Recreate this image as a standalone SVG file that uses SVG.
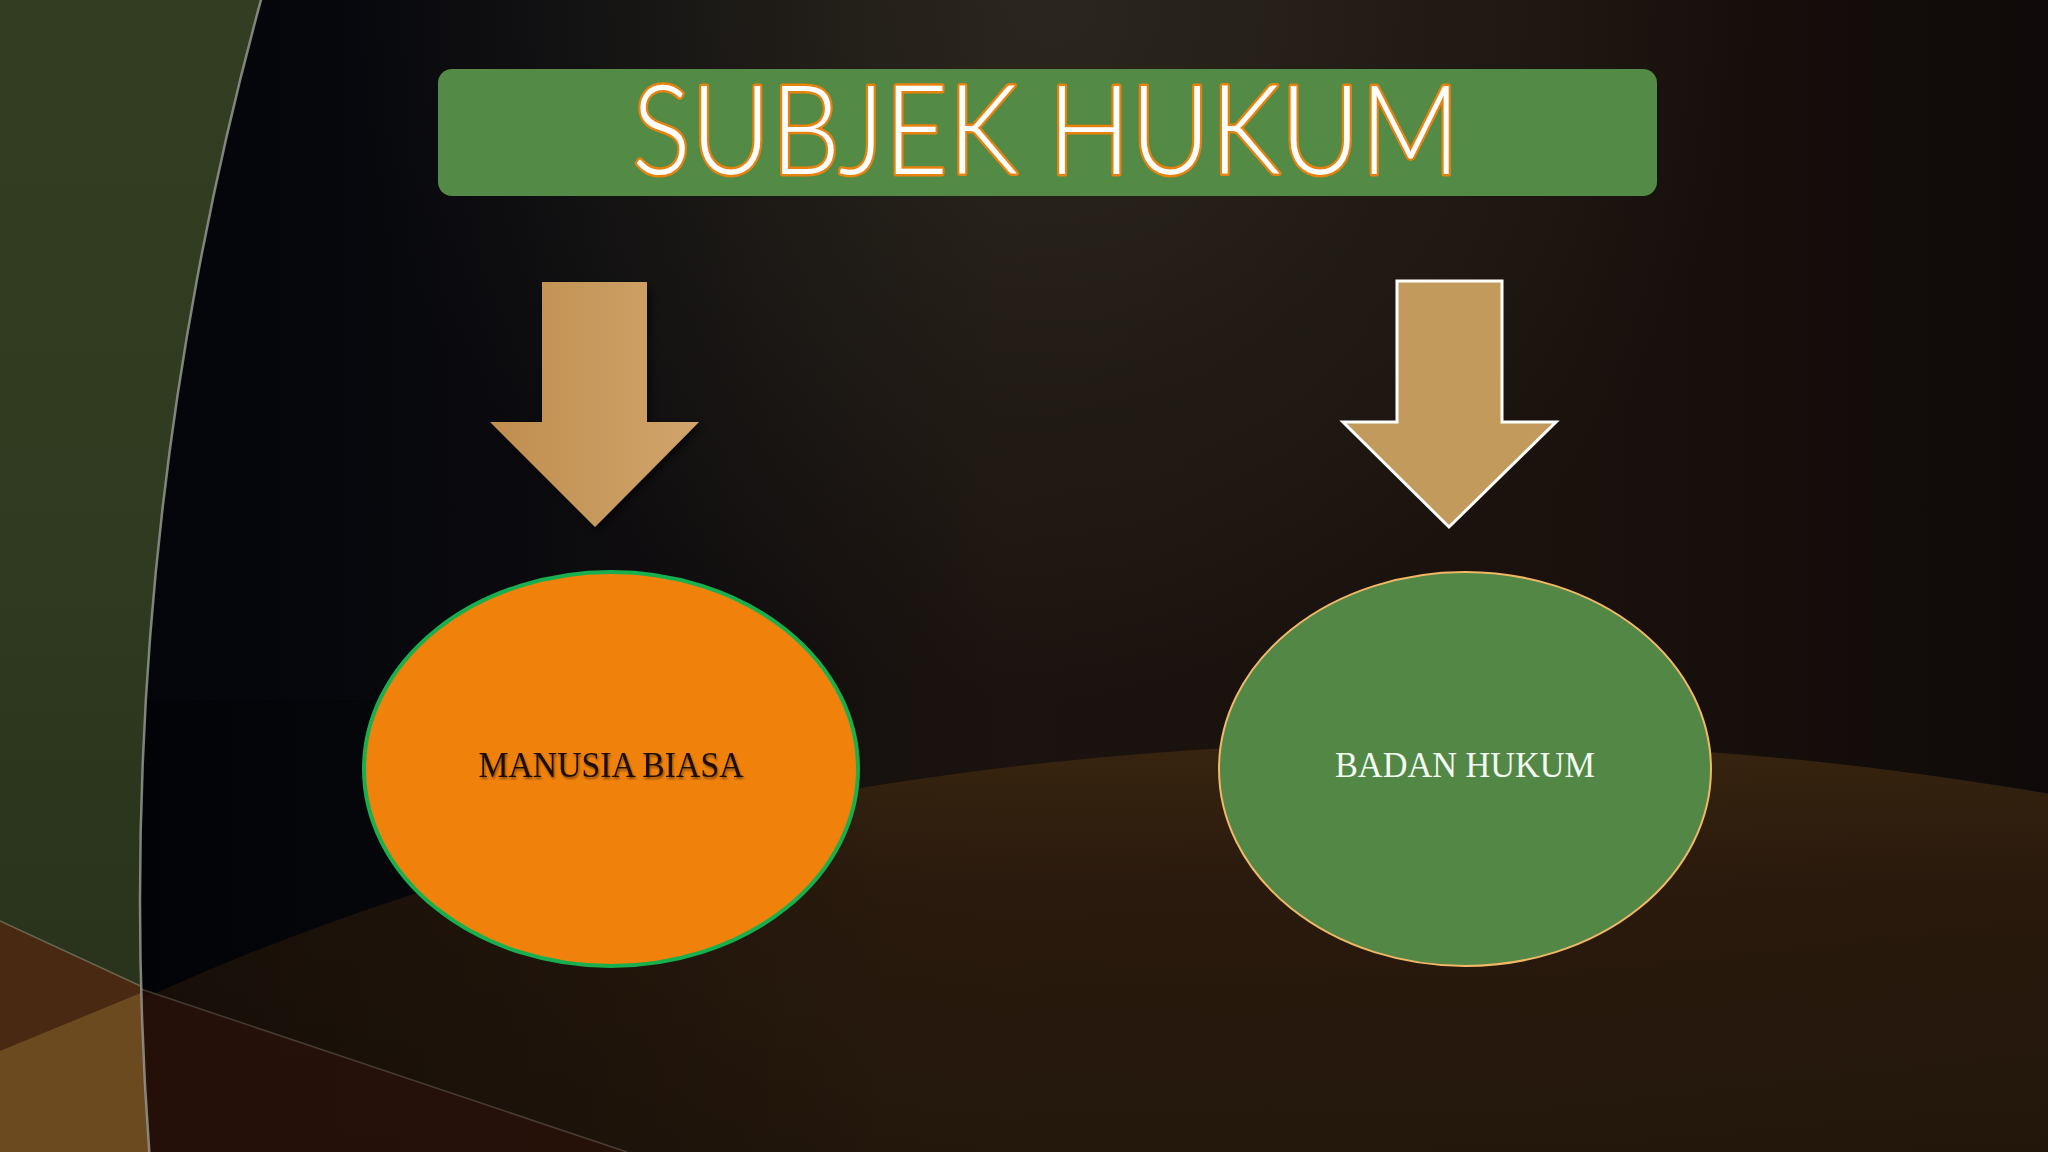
<svg xmlns="http://www.w3.org/2000/svg" width="2048" height="1152" viewBox="0 0 2048 1152">
  <style>
    .title { font-family: "Lato", "Open Sans", "Noto Sans", sans-serif; font-weight: 300; font-size: 124px; fill: #FFFFFF; stroke: #E8820E; stroke-width: 5; paint-order: stroke; stroke-linejoin: round; }
    .label { font-family: "Liberation Serif", "DejaVu Serif", serif; font-size: 36px; }
  </style>
  <defs>
    <linearGradient id="olive" x1="0" y1="0" x2="0" y2="1">
      <stop offset="0" stop-color="#323D21"/>
      <stop offset="0.5" stop-color="#2F3A20"/>
      <stop offset="1" stop-color="#27301A"/>
    </linearGradient>
    <linearGradient id="dark" gradientUnits="userSpaceOnUse" x1="140" y1="0" x2="2048" y2="0">
      <stop offset="0" stop-color="#03050B"/>
      <stop offset="0.2" stop-color="#0A0A0E"/>
      <stop offset="0.45" stop-color="#1B130F"/>
      <stop offset="0.75" stop-color="#1A110D"/>
      <stop offset="1" stop-color="#0F0A09"/>
    </linearGradient>
    <radialGradient id="topglow" cx="1050" cy="0" r="700" gradientUnits="userSpaceOnUse">
      <stop offset="0" stop-color="#3A3A2C" stop-opacity="0.5"/>
      <stop offset="1" stop-color="#3A3A2C" stop-opacity="0"/>
    </radialGradient>
    <linearGradient id="hump" gradientUnits="userSpaceOnUse" x1="0" y1="740" x2="0" y2="1152">
      <stop offset="0" stop-color="#3B2710"/>
      <stop offset="0.35" stop-color="#2C1B0D"/>
      <stop offset="1" stop-color="#24170B"/>
    </linearGradient>
    <linearGradient id="humpfade" gradientUnits="userSpaceOnUse" x1="140" y1="0" x2="900" y2="0">
      <stop offset="0" stop-color="#000" stop-opacity="0.8"/>
      <stop offset="1" stop-color="#000" stop-opacity="0"/>
    </linearGradient>
    <linearGradient id="arrowL" x1="0" y1="0" x2="1" y2="0">
      <stop offset="0" stop-color="#C08D4E"/>
      <stop offset="1" stop-color="#D0A56C"/>
    </linearGradient>
    <clipPath id="circ">
      <circle cx="3547" cy="900" r="3407"/>
    </clipPath>
    <filter id="shadow" x="-20%" y="-20%" width="140%" height="140%">
      <feDropShadow dx="3" dy="4" stdDeviation="4" flood-color="#000000" flood-opacity="0.6"/>
    </filter>
    <filter id="tshadow" x="-10%" y="-30%" width="120%" height="160%">
      <feDropShadow dx="1" dy="2" stdDeviation="1" flood-color="#000000" flood-opacity="0.45"/>
    </filter>
  </defs>

  <!-- background -->
  <g id="background">
    <rect x="0" y="0" width="2048" height="1152" fill="url(#olive)"/>
    <polygon points="0,921 160,995 160,1152 0,1152" fill="#4A2912"/>
    <polygon points="0,1051 160,985 160,1152 0,1152" fill="#6A4A1E"/>
    <line x1="0" y1="921" x2="160" y2="995" stroke="#8C8A70" stroke-width="1.5" opacity="0.6"/>
    <circle cx="3547" cy="900" r="3407" fill="url(#dark)"/>
    <g clip-path="url(#circ)">
      <rect x="0" y="0" width="2048" height="700" fill="url(#topglow)"/>
      <ellipse cx="1437" cy="1823" rx="2000" ry="1081" fill="url(#hump)" opacity="0.9"/>
      <rect x="0" y="700" width="900" height="452" fill="url(#humpfade)" opacity="0.5"/>
      <polygon points="141,989 627,1152 141,1152" fill="#2A1209" opacity="0.75"/>
      <line x1="141" y1="989" x2="627" y2="1152" stroke="#6F6A5A" stroke-width="1.5" opacity="0.5"/>
    </g>
    <circle cx="3547" cy="900" r="3407" fill="none" stroke="#9A9E98" stroke-width="2.5" opacity="0.8"/>
  </g>

  <!-- title node -->
  <g id="title">
    <rect x="438" y="69" width="1219" height="127" rx="14" ry="14" fill="#538A45"/>
    <text class="title" x="1046" y="174" text-anchor="middle" textLength="828" lengthAdjust="spacingAndGlyphs">SUBJEK HUKUM</text>
  </g>

  <!-- connectors: block arrows -->
  <g id="connectors">
    <polygon id="arrow-left" points="542,282 647,282 647,422 699,422 595,527 490,422 542,422" fill="url(#arrowL)" filter="url(#shadow)"/>
    <polygon id="arrow-right" points="1397,281 1502,281 1502,422 1556,422 1449,527 1343,422 1397,422" fill="#C19A5C" stroke="#FFFFFF" stroke-width="3" stroke-linejoin="miter"/>
  </g>

  <!-- node: manusia biasa -->
  <g id="node-manusia">
    <ellipse cx="611" cy="769" rx="247" ry="197" fill="#F0820C" stroke="#18B04E" stroke-width="4"/>
    <text class="label" x="611" y="777" text-anchor="middle" fill="#1A0F05" textLength="265" lengthAdjust="spacingAndGlyphs" filter="url(#tshadow)">MANUSIA BIASA</text>
  </g>

  <!-- node: badan hukum -->
  <g id="node-badan">
    <ellipse cx="1465" cy="769" rx="246" ry="197" fill="#538745" stroke="#F2B866" stroke-width="2"/>
    <text class="label" x="1465" y="777" text-anchor="middle" fill="#F4FBF2" textLength="260" lengthAdjust="spacingAndGlyphs">BADAN HUKUM</text>
  </g>
</svg>
